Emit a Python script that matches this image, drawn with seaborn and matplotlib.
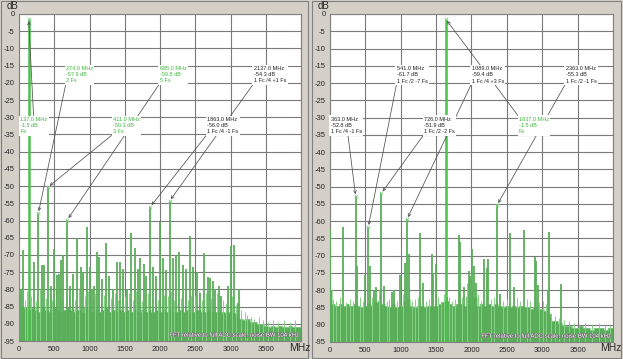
import numpy as np
import matplotlib
matplotlib.use("Agg")
import matplotlib.pyplot as plt
import matplotlib.patheffects as pe
from matplotlib.patches import Rectangle
import seaborn as sns

# ---- data ----
floor_mhz = np.arange(0, 4001, 50)

p1_floor_db = [-84, -85.5, -85, -86, -85.5, -86, -86.5, -85.5, -86, -86.5,
               -85.5, -86, -86.5, -86, -85.5, -86, -86.5, -86, -86.5, -85.5,
               -86, -86.5, -86, -86.5, -86, -85.5, -86.5, -86, -86.5, -86,
               -86.5, -86, -86.5, -86, -86.5, -86, -86.5, -86, -86.5, -86,
               -86.5, -86, -86.5, -86, -86.5, -86.5, -86, -86.5, -86, -86.5,
               -86.5, -86, -86.5, -86.5, -86, -86.5, -86.5, -87, -86.5, -87,
               -86.5, -87, -87.5, -88.5, -89, -88.5, -89.5, -89.5, -90, -90,
               -90.5, -91, -90.5, -91, -90.5, -91, -91, -90.5, -91, -91, -91]

p2_floor_db = [-80, -84, -84.5, -84, -84.5, -84, -84.5, -84, -84.5, -85,
               -84.5, -84, -84.5, -83.5, -83, -84, -84.5, -85, -84, -85,
               -84.5, -83, -82.5, -84.5, -85, -84.5, -84.5, -85, -84.5, -84.5,
               -84.5, -84, -83.5, -83, -84, -84.5, -84, -84, -84.5, -82,
               -80, -82, -84.5, -84, -84.5, -84, -84.5, -84, -84.5, -85,
               -84.5, -85, -84.5, -85, -84.5, -85, -85, -85.5, -85, -85.5,
               -85.5, -86, -87, -89, -89, -89.5, -90, -90.5, -90.5, -91,
               -91, -90.5, -91, -91, -91.5, -91, -91, -91, -91.5, -91, -91]

p1_spur_mhz = [0, 30, 60, 137, 215, 274, 325, 360, 411, 453, 500, 540, 565, 597,
               630, 685, 730, 770, 825, 875, 905, 960, 1010, 1030, 1065, 1100,
               1140, 1175, 1232, 1270, 1340, 1389, 1435, 1480, 1530, 1583, 1640,
               1683, 1720, 1773, 1800, 1863, 1905, 1950, 2005, 2040, 2080, 2137,
               2180, 2225, 2275, 2330, 2365, 2422, 2470, 2525, 2570, 2626, 2678,
               2705, 2745, 2785, 2830, 2870, 2967, 3000, 3048, 3110, 3124]
p1_spur_db = [-66.3, -80, -68.7, -1.5, -72, -57.9, -73, -72.8, -50.3, -79, -68.4,
              -75.9, -75.6, -71.5, -70, -59.8, -79, -75.4, -65.2, -73.5, -75, -62,
              -73.5, -80, -79, -69, -70.5, -77, -66.5, -76, -80, -72, -72, -74,
              -80, -63.5, -68, -74, -71, -72.5, -76, -56.0, -73.5, -76, -60.3,
              -70.8, -74.5, -54.3, -70.8, -70, -69, -73, -74, -64.5, -73.5, -75,
              -81, -69.5, -76.5, -76.8, -77.5, -80, -79, -82, -79, -67.5, -67,
              -84, -79.8]

p2_spur_mhz = [0, 15, 184, 363, 385, 492, 541, 565, 620, 655, 726, 765, 880, 905,
               993, 1055, 1089, 1110, 1272, 1315, 1442, 1460, 1500, 1637, 1660,
               1820, 1832, 1900, 1965, 1985, 2010, 2035, 2060, 2181, 2220, 2235,
               2363, 2405, 2545, 2600, 2735, 2898, 2915, 2945, 3075, 3090, 3270]
p2_spur_db = [-62.2, -80, -61.8, -52.8, -73, -75.5, -61.7, -73, -80, -79, -51.9,
              -78.8, -80.5, -80, -75.5, -72, -59.4, -69.5, -63.5, -78, -69.5, -75,
              -72.5, -1.5, -82, -64, -66, -79, -74.5, -75.8, -68, -73, -78, -71,
              -73.5, -71, -55.3, -81, -63.5, -79, -62.5, -70.5, -71.5, -78.5, -80,
              -63, -78.3]

p1_minor_mhz = [20, 85, 110, 175, 240, 300, 380, 440, 470, 520, 580, 615, 660, 710,
                750, 800, 850, 930, 985, 1045, 1080, 1120, 1160, 1200, 1260, 1300,
                1360, 1410, 1460, 1500, 1555, 1610, 1660, 1700, 1745, 1830, 1885,
                1930, 1975, 2060, 2110, 2160, 2200, 2250, 2300, 2350, 2395, 2445,
                2500, 2550, 2600, 2650, 2720, 2760, 2810, 2850, 2900, 2940, 3020,
                3080, 3150, 3200, 3240, 3290, 3340, 3400, 3460, 3530, 3600, 3680,
                3760, 3840, 3920]
p1_minor_db = [-81, -83, -80.5, -82, -83.5, -80, -82.5, -81, -83, -80, -82, -83,
               -81.5, -82, -80.5, -83, -79.5, -82, -80.5, -82.5, -81, -80, -83,
               -81.5, -80, -82.5, -81, -83, -80.5, -82, -81, -83, -80.5, -82,
               -83.5, -81, -82.5, -80, -83, -81.5, -82, -80.5, -83, -81, -82.5,
               -80, -83, -81.5, -82, -80.5, -83, -81, -82.5, -83, -81, -82.5,
               -83, -84, -82, -84.5, -86, -86.5, -87.5, -88, -88.5, -88, -89,
               -89.5, -89, -89.5, -89, -89.5, -89]

p2_minor_mhz = [40, 90, 140, 230, 280, 320, 430, 470, 600, 690, 700, 745, 800, 840,
                950, 1030, 1075, 1120, 1160, 1200, 1240, 1350, 1400, 1520, 1570,
                1610, 1680, 1720, 1770, 1860, 1940, 1995, 2090, 2140, 2270, 2320,
                2450, 2500, 2640, 2690, 2780, 2830, 2960, 3010, 3050, 3130, 3180,
                3230, 3310, 3380, 3450, 3520, 3600, 3700, 3800, 3880, 3960]
p2_minor_db = [-82.5, -83, -82, -83.5, -82.5, -83, -82, -83, -82, -80, -79.5, -81,
               -83, -82.5, -83, -81, -76, -79, -83, -82.5, -82, -83, -82.5, -82,
               -83, -81, -82, -83, -82.5, -82, -78, -74.5, -81, -83, -82.5, -82,
               -83, -82.5, -82, -83, -82.5, -83, -83.5, -83, -84, -86.5, -87.5,
               -88, -88.5, -89, -89.5, -90, -89.5, -90, -89.5, -90, -90]

# annotations: (peak MHz, peak dB, label, text MHz, text dB, relpos, colour)
p1_notes = [(137, -1.5, "137.0 MHz\n-1.5 dB\nFs", 15, -29.9, (0.5, 1), "g"),
            (274, -57.9, "274.0 MHz\n-57.9 dB\n2 Fs", 666, -15.1, (0, 0), "g"),
            (685, -59.8, "685.0 MHz\n-59.8 dB\n5 Fs", 1998, -15.1, (0, 0), "g"),
            (2137, -54.3, "2137.0 MHz\n-54.3 dB\n1 Fc /4 +1 Fs", 3330, -15.1, (0, 0), "k"),
            (411, -50.3, "411.0 MHz\n-50.3 dB\n3 Fs", 1332, -29.9, (0, 0), "g"),
            (1863, -56.0, "1863.0 MHz\n-56.0 dB\n1 Fc /4 -1 Fs", 2668, -29.9, (0, 0), "k")]
p2_notes = [(363, -52.8, "363.0 MHz\n-52.8 dB\n1 Fc /4 -1 Fs", 10, -29.8, (0.55, 0), "k"),
            (541, -61.7, "541.0 MHz\n-61.7 dB\n1 Fc /2 -7 Fs", 942, -15.1, (0, 0), "k"),
            (2363, -55.3, "2363.0 MHz\n-55.3 dB\n1 Fc /2 -1 Fs", 3331, -15.1, (0, 0), "k"),
            (1637, -1.5, "1637.0 MHz\n-1.5 dB\nFs", 2671, -29.8, (0, 1), "g"),
            (1089, -59.4, "1089.0 MHz\n-59.4 dB\n1 Fc /4 +3 Fs", 2002, -15.1, (0, 0), "k"),
            (726, -51.9, "726.0 MHz\n-51.9 dB\n1 Fc /2 -2 Fs", 1329, -29.8, (0, 0), "k")]

# ---- style ----
sns.set_style("white")
plt.rcParams["font.family"] = ["Liberation Sans", "DejaVu Sans"]

BG = "#d4d0c8"
FILL = "#5aae5a"
LIGHT = "#86d286"
TXT_G = "#3cb83c"

fig = plt.figure(figsize=(6.23, 3.59), dpi=100, facecolor=BG)
ax1 = fig.add_axes([19 / 623, 18 / 359, 282 / 623, 327 / 359])
ax2 = fig.add_axes([330 / 623, 17 / 359, 283 / 623, 328 / 359])

# panel frames
for x0, w in [(1, 307), (312, 309)]:
    fig.patches.append(Rectangle((x0 / 623, 1 / 359), w / 623, 357 / 359,
                                 transform=fig.transFigure, fill=False,
                                 ec="#808080", lw=0.8))


def draw_panel(ax, floor_db, spur_mhz, spur_db, minor_mhz, minor_db, notes, main_f):
    ax.set_facecolor("white")
    ax.fill_between(floor_mhz, floor_db, -95, step="mid", color=FILL, lw=0, zorder=2)
    sns.lineplot(x=floor_mhz, y=floor_db, ax=ax, drawstyle="steps-mid",
                 color=LIGHT, lw=0.5, zorder=2)
    ax.vlines(minor_mhz, -95, minor_db, color=LIGHT, lw=0.7, zorder=2)
    sm = np.array(spur_mhz)
    sd = np.array(spur_db)
    main = sm == main_f
    ax.vlines(sm[~main], -95, sd[~main], color=FILL, lw=1.3, zorder=3)
    ax.vlines(sm[main], -95, sd[main], color="#4cc04c", lw=1.8, zorder=3)

    pk_x = [n[0] for n in notes]
    pk_y = [n[1] for n in notes]
    sns.scatterplot(x=pk_x, y=pk_y, ax=ax, marker="x", s=6, color=LIGHT,
                    linewidth=0.6, zorder=4)

    for f, db, label, tx, ty, rp, c in notes:
        ax.annotate(label, xy=(f, db), xytext=(tx, ty), ha="left", va="top",
                    fontsize=4.0, linespacing=1.3,
                    color=TXT_G if c == "g" else "#202020",
                    bbox=dict(boxstyle="square,pad=0.25", fc="white", ec="none"),
                    arrowprops=dict(arrowstyle="->", color="#505050", lw=0.55,
                                    shrinkA=0, shrinkB=1.5, relpos=rp,
                                    mutation_scale=5),
                    zorder=5)

    ax.text(0.995, 0.01, "FFT relative to full ADC scale, noise BW 104 kHz",
            transform=ax.transAxes, ha="right", va="bottom", fontsize=4.3,
            color="white", zorder=6,
            path_effects=[pe.withStroke(linewidth=0.8, foreground="#6a6a6a")])

    ax.set_xlim(0, 4000)
    ax.set_ylim(-95, 0)
    ax.set_xticks(np.arange(0, 4001, 500))
    ax.set_xticklabels([str(v) for v in range(0, 3501, 500)] + [""])
    ax.set_yticks(np.arange(-95, 1, 5))
    ax.set_yticklabels([str(v) for v in range(-95, 1, 5)])
    ax.grid(True, color="#7a7a7a", lw=0.8, zorder=1)
    ax.set_axisbelow(True)
    ax.tick_params(axis="both", direction="out", length=2.5, width=0.6,
                   labelsize=5.5, pad=0.8, color="#404040")
    for s in ax.spines.values():
        s.set_color("#808080")
        s.set_linewidth(0.8)
    ax.set_xlabel("")
    ax.set_ylabel("")


draw_panel(ax1, p1_floor_db, p1_spur_mhz, p1_spur_db, p1_minor_mhz, p1_minor_db,
           p1_notes, 137)
draw_panel(ax2, p2_floor_db, p2_spur_mhz, p2_spur_db, p2_minor_mhz, p2_minor_db,
           p2_notes, 1637)

for x in (7, 318):
    fig.text(x / 623, 1 - 6 / 359, "dB", fontsize=7, va="center", ha="left")
for x in (289, 600):
    fig.text(x / 623, 1 - 348 / 359, "MHz", fontsize=7.5, va="center", ha="left")

fig.savefig("out.png", dpi=100, facecolor=BG)
